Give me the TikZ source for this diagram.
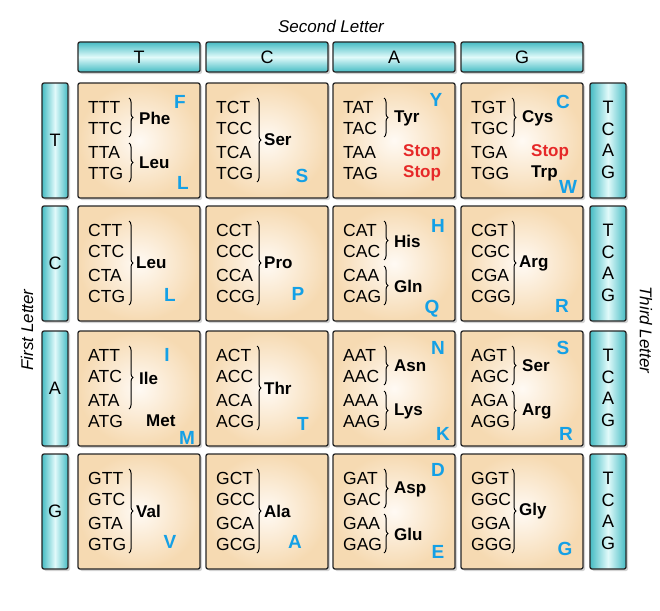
\documentclass[tikz,border=0pt]{standalone}
\usepackage{fontspec}
\setmainfont{Liberation Sans}
\usetikzlibrary{decorations.pathreplacing,shadows}
\definecolor{peach}{RGB}{246,218,178}
\definecolor{peachl}{RGB}{255,250,244}
\definecolor{teal}{RGB}{70,188,196}
\definecolor{teall}{RGB}{225,250,250}
\definecolor{lblue}{RGB}{20,160,230}
\definecolor{stopred}{RGB}{230,40,40}
\tikzset{
 cellbox/.style={draw=black!85,line width=1.3pt,rounded corners=2pt,inner color=peachl,outer color=peach,drop shadow={opacity=0.35,shadow xshift=2pt,shadow yshift=-2pt}},
 hbox/.style={draw=black!85,line width=1.3pt,rounded corners=2pt,top color=teal,bottom color=teal,middle color=teall,drop shadow={opacity=0.35,shadow xshift=2pt,shadow yshift=-2pt}},
 vbox/.style={draw=black!85,line width=1.3pt,rounded corners=2pt,left color=teal,right color=teal,middle color=teall,drop shadow={opacity=0.35,shadow xshift=2pt,shadow yshift=-2pt}},
 cod/.style={anchor=west,inner sep=0pt,font=\fontsize{17.5}{19}\selectfont},
 aa/.style={anchor=west,inner sep=0pt,font=\fontsize{17}{19}\selectfont\bfseries},
 lab/.style={inner sep=0pt,font=\fontsize{18}{20}\selectfont},
 brc/.style={decorate,decoration={brace,amplitude=4pt},line width=1pt},
 bl/.style={inner sep=0pt,text=lblue,font=\fontsize{19}{21}\selectfont\bfseries},
}
\newcommand\codons[6]{%
 \node[cod] (c#3) at (#1+10,#2+24) {#3};
 \node[cod] (c#4) at (#1+10,#2+45) {#4};
 \node[cod] (c#5) at (#1+10,#2+69) {#5};
 \node[cod] (c#6) at (#1+10,#2+90) {#6};}
\newcommand\bfour[4]{\draw[brc] (#1+51,#2+15) -- (#1+51,#2+99); \node[aa] (#3) at (#1+58,#2+57) {#4};}
\newcommand\btop[4]{\draw[brc] (#1+51,#2+15) -- (#1+51,#2+54); \node[aa] (#3) at (#1+61,#2+35) {#4};}
\newcommand\bbot[4]{\draw[brc] (#1+51,#2+60) -- (#1+51,#2+99); \node[aa] (#3) at (#1+61,#2+80) {#4};}
\begin{document}
\begin{tikzpicture}[x=1pt,y=-1pt]
\useasboundingbox (0,0) rectangle (660,610);
\node[lab,font=\fontsize{17}{19}\selectfont\itshape] (t2) at (331,26) {Second Letter};
\node[lab,font=\fontsize{17}{19}\selectfont\itshape,rotate=90] (t1) at (27,330) {First Letter};
\node[lab,font=\fontsize{17}{19}\selectfont\itshape,rotate=-90] (t3) at (646,330) {Third Letter};
% headers
\foreach \x/\l [count=\i] in {78/T,206/C,333/A,461/G}{
 \draw[hbox] (\x,42) rectangle (\x+122,72);
 \node[lab] (h\i) at (\x+61,57) {\l};}
\foreach \y/\l [count=\i] in {83/T,206/C,331/A,454/G}{
 \draw[vbox] (42,\y) rectangle (68,\y+115);
 \node[lab] (f\i) at (55,\y+57) {\l};
 \draw[vbox] (590,\y) rectangle (626,\y+115);
 \node[lab,align=center,font=\fontsize{18}{21.5}\selectfont] (r\i) at (608,\y+57) {T\\C\\A\\G};
 \foreach \x in {78,206,333,461}{\draw[cellbox] (\x,\y) rectangle (\x+122,\y+115);}
}
% row T
\codons{78}{83}{TTT}{TTC}{TTA}{TTG}\btop{78}{83}{phe}{Phe}\bbot{78}{83}{leu1}{Leu}
\codons{206}{83}{TCT}{TCC}{TCA}{TCG}\bfour{206}{83}{ser1}{Ser}
\codons{333}{83}{TAT}{TAC}{TAA}{TAG}\btop{333}{83}{tyr}{Tyr}
\node[aa,text=stopred] (st1) at (333+70,83+69) {Stop};
\node[aa,text=stopred] (st2) at (333+70,83+90) {Stop};
\codons{461}{83}{TGT}{TGC}{TGA}{TGG}\btop{461}{83}{cys}{Cys}
\node[aa,text=stopred] (st3) at (461+70,83+69) {Stop};
\node[aa] (trp) at (461+70,83+90) {Trp};
% row C
\codons{78}{206}{CTT}{CTC}{CTA}{CTG}\bfour{78}{206}{leu2}{Leu}
\codons{206}{206}{CCT}{CCC}{CCA}{CCG}\bfour{206}{206}{pro}{Pro}
\codons{333}{206}{CAT}{CAC}{CAA}{CAG}\btop{333}{206}{his}{His}\bbot{333}{206}{gln}{Gln}
\codons{461}{206}{CGT}{CGC}{CGA}{CGG}\bfour{461}{206}{arg1}{Arg}
% row A
\codons{78}{331}{ATT}{ATC}{ATA}{ATG}
\draw[brc] (78+51,331+15) -- (78+51,331+78); \node[aa] (ile) at (78+61,331+47) {Ile};
\node[aa] (met) at (78+68,331+90) {Met};
\codons{206}{331}{ACT}{ACC}{ACA}{ACG}\bfour{206}{331}{thr}{Thr}
\codons{333}{331}{AAT}{AAC}{AAA}{AAG}\btop{333}{331}{asn}{Asn}\bbot{333}{331}{lys}{Lys}
\codons{461}{331}{AGT}{AGC}{AGA}{AGG}\btop{461}{331}{ser2}{Ser}\bbot{461}{331}{arg2}{Arg}
% row G
\codons{78}{454}{GTT}{GTC}{GTA}{GTG}\bfour{78}{454}{val}{Val}
\codons{206}{454}{GCT}{GCC}{GCA}{GCG}\bfour{206}{454}{ala}{Ala}
\codons{333}{454}{GAT}{GAC}{GAA}{GAG}\btop{333}{454}{asp}{Asp}\bbot{333}{454}{glu}{Glu}
\codons{461}{454}{GGT}{GGC}{GGA}{GGG}\bfour{461}{454}{gly}{Gly}
% one-letter codes
\foreach \l/\x/\y [count=\i] in {F/180/102,L/183/183,S/302/176,Y/436/100,C/563/102,W/568/187,
 H/438/226,Q/432/309,L/170/295,P/298/294,R/562/306,
 I/167/355,M/187/438,T/303/424,N/438/348,K/443/434,S/563/348,R/566/434,
 V/170/542,A/295/542,D/438/470,E/438/552,G/565/549}
 \node[bl] (b\i) at (\x,\y) {\l};
\end{tikzpicture}
\end{document}
